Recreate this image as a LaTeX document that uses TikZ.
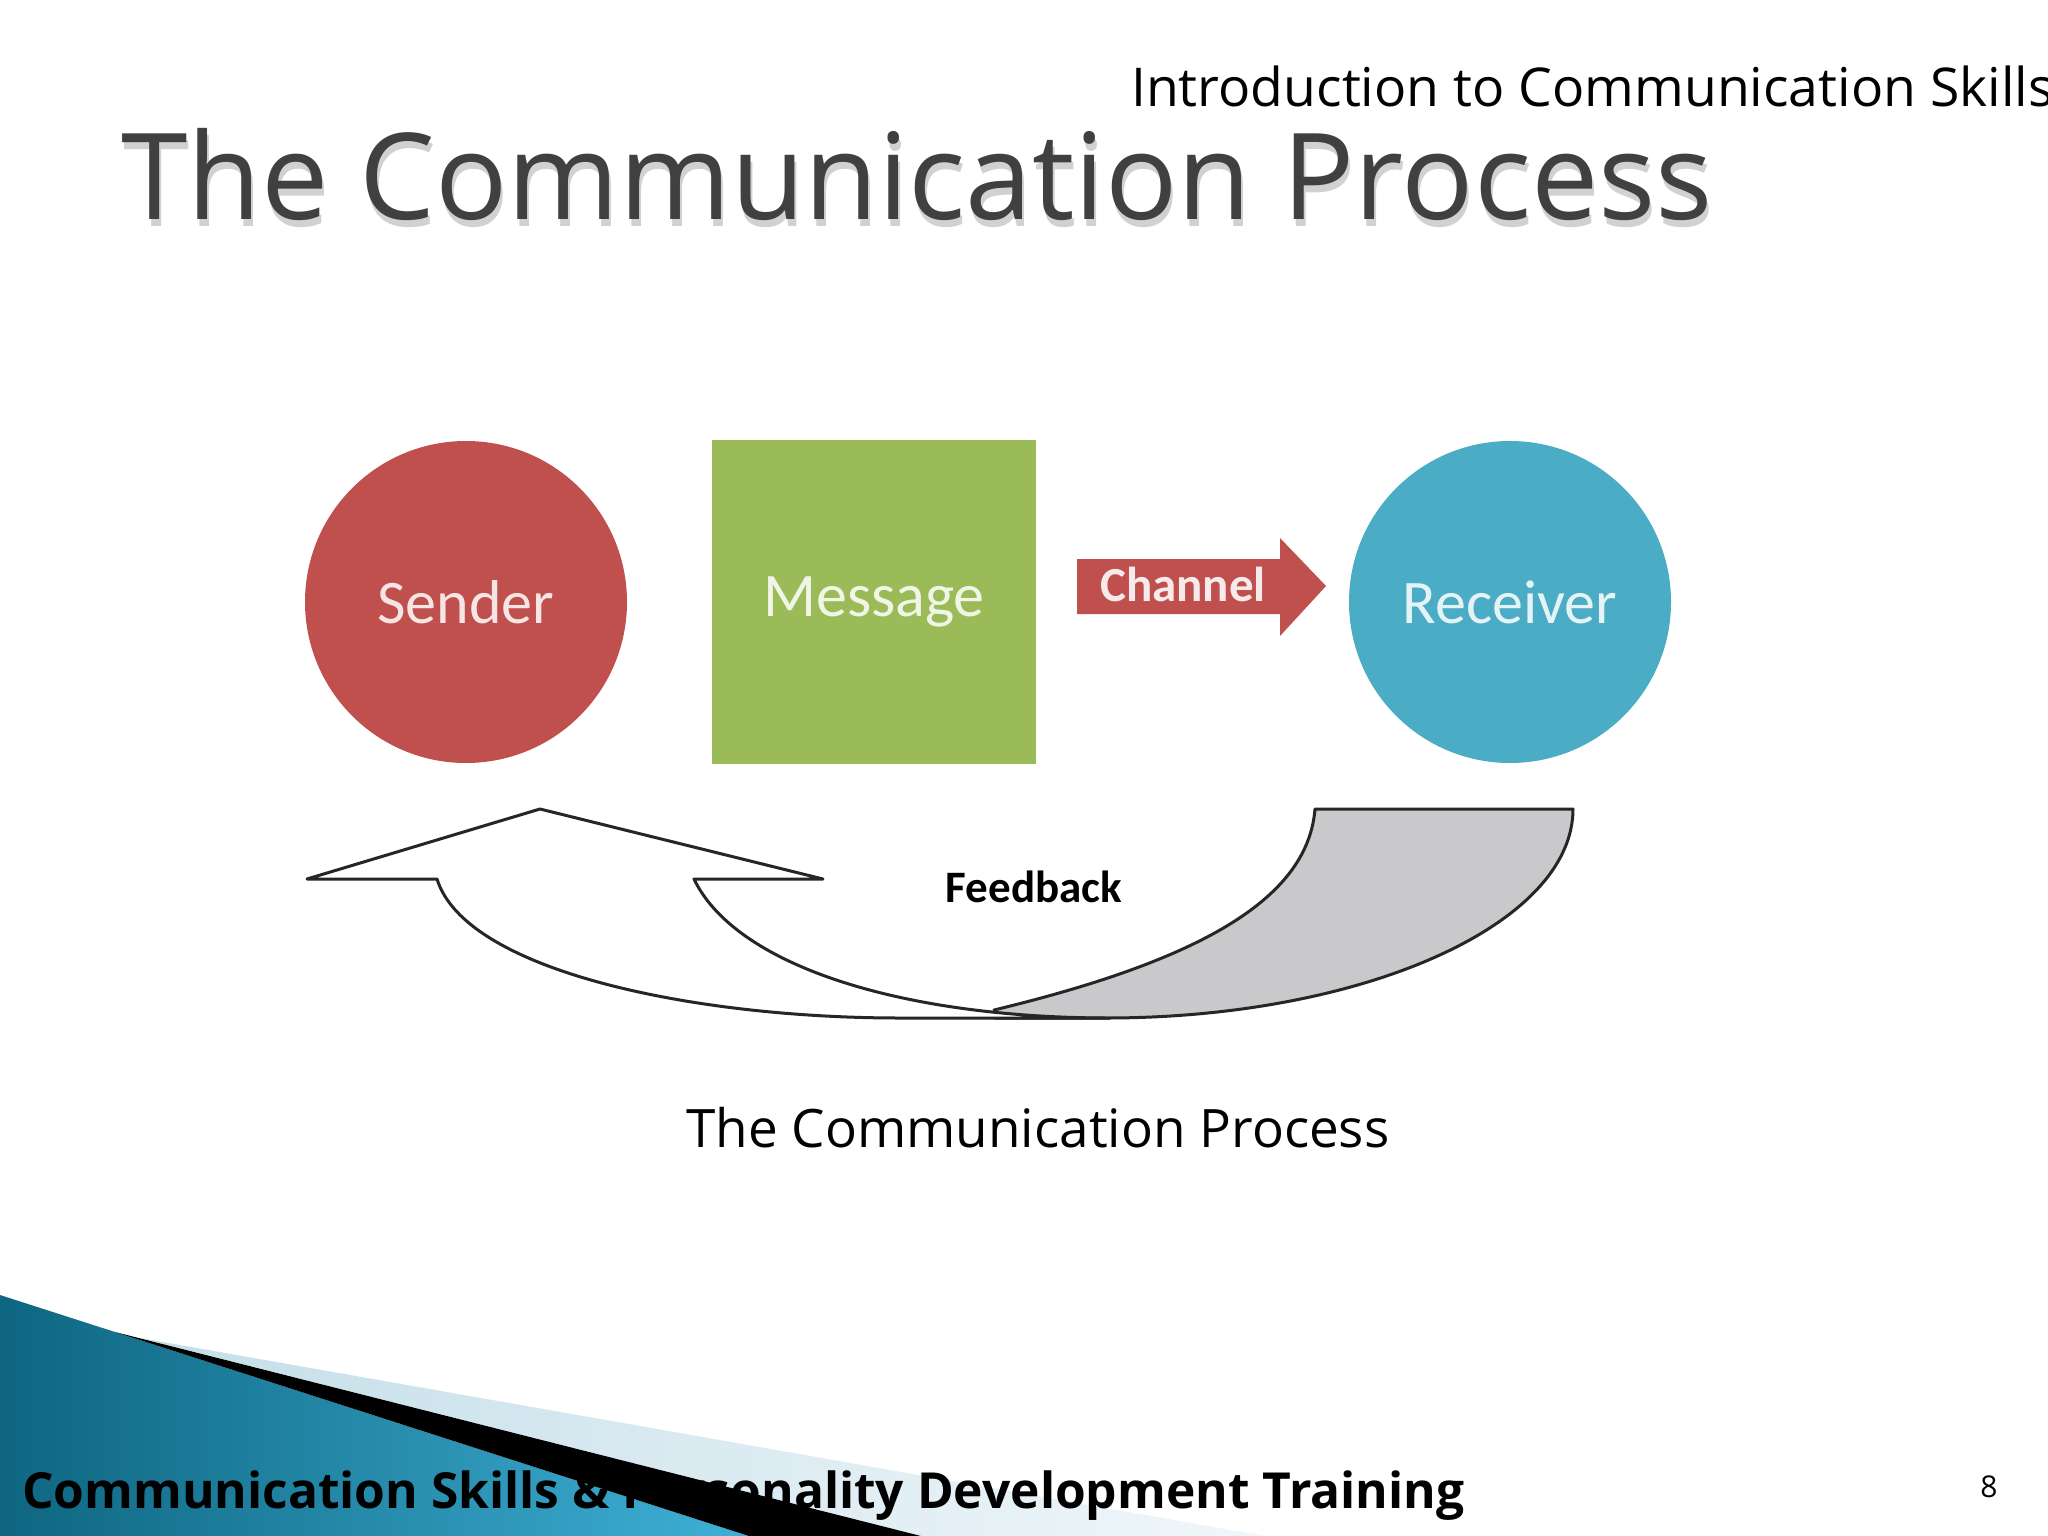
\documentclass[tikz,border=0pt]{standalone}
\usepackage{fontspec}
\setmainfont{Open Sans}
\newfontfamily\calfont{Carlito}

\definecolor{sendred}{HTML}{C0504D}
\definecolor{msggreen}{HTML}{9BBB59}
\definecolor{recvblue}{HTML}{4BACC6}
\definecolor{fbgray}{HTML}{C9C9CB}
\definecolor{titlegray}{HTML}{404040}
\definecolor{tealdark}{HTML}{0E6681}
\definecolor{teallight}{HTML}{3FB0D6}
\definecolor{paleblue}{HTML}{C4DEE9}

\begin{document}
\begin{tikzpicture}[x=1pt,y=-1pt,
  every node/.style={inner sep=0pt},
  blob/.style={circle,minimum size=322pt,font=\calfont\fontsize{62}{70}\selectfont},
  fbline/.style={line width=3pt,line join=round,draw=black!85}]

\useasboundingbox (0,0) rectangle (2048,1536);
\fill[white] (0,0) rectangle (2048,1536);

% corner of the slide
\shade[left color=tealdark,right color=teallight] (0,1295) -- (749,1536) -- (0,1536) -- cycle;
\shade[left color=paleblue,right color=paleblue!25] (140,1338) -- (1265,1536) -- (921,1536) -- cycle;
\fill[black] (115,1332) -- (921,1536) -- (749,1536) -- cycle;

% headings
\node[anchor=base west] (subhead) at (1131,107) {\fontsize{53.5}{60}\selectfont Introduction to Communication Skills};
\node[anchor=base west,text=black!18] (titleshadow) at (123,226) {\fontsize{120}{130}\selectfont The Communication Process};
\node[anchor=base west,text=titlegray] (title) at (121,219) {\fontsize{120}{130}\selectfont The Communication Process};

% the process
\node[blob,fill=sendred,text=sendred!15] (sender) at (466,602) {Sender};
\node[minimum size=324pt,fill=msggreen,text=msggreen!15,font=\calfont\fontsize{62}{70}\selectfont] (message) at (874,602) {Message};
\node[blob,fill=recvblue,text=recvblue!15] (receiver) at (1510,602) {Receiver};

\fill[sendred] (1077,559) -- (1280,559) -- (1280,538) -- (1326,586) -- (1280,636) -- (1280,614) -- (1077,614) -- cycle;
\node[text=sendred!12,font=\calfont\bfseries\fontsize{49}{55}\selectfont] (channel) at (1183,584) {Channel};

% feedback arrow
\filldraw[fbline,fill=fbgray] (1315,809) -- (1573,809)
  .. controls (1573,924) and (1364,1018) .. (1106,1018) -- (994,1018) -- (994,1010)
  .. controls (1210,958) and (1308,895) .. (1315,809) -- cycle;
\filldraw[fbline,fill=white] (540,809) -- (823,879) -- (694,879)
  .. controls (735,965) and (900,1018) .. (1110,1018) -- (900,1018)
  .. controls (690,1018) and (465,970) .. (437,879) -- (307,879) -- cycle;
\node[font=\calfont\bfseries\fontsize{45}{50}\selectfont] (feedback) at (1034,887) {Feedback};

\node[anchor=base] (caption) at (1038,1147) {\fontsize{53}{60}\selectfont The Communication Process};

% footer
\node[anchor=base west] (footer) at (22,1508) {\bfseries\fontsize{49.7}{55}\selectfont Communication Skills \& Personality Development Training};
\node[anchor=base] (pagenum) at (1989,1497) {\fontsize{30}{34}\selectfont 8};
\end{tikzpicture}
\end{document}
